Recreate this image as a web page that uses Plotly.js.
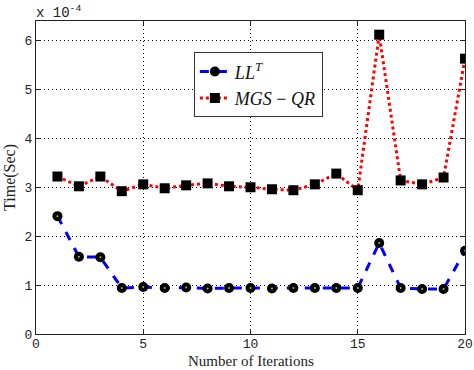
<!DOCTYPE html>
<html>
<head>
<meta charset="utf-8">
<script src="https://cdn.plot.ly/plotly-3.0.1.min.js"></script>
<style>html,body{margin:0;padding:0;background:#fff;}#chart{width:474px;height:370px;}</style>
</head>
<body>
<div id="chart"></div>
<script>
// Values in units of 1e-4 seconds
const iterations = [1,2,3,4,5,6,7,8,9,10,11,12,13,14,15,16,17,18,19,20];
const llt = [2.41,1.58,1.57,0.94,0.96,0.94,0.95,0.93,0.94,0.94,0.93,0.94,0.94,0.94,0.94,1.86,0.94,0.92,0.92,1.70];
const mgsqr = [3.22,3.02,3.22,2.92,3.06,2.98,3.04,3.08,3.02,3.00,2.96,2.94,3.06,3.28,2.94,6.12,3.14,3.06,3.20,5.63];
const xTicks = [0,5,10,15,20];
const yTicks = [0,1,2,3,4,5,6];

const MONO = 'Liberation Mono';
const SERIF = 'Liberation Serif';

const traces = [
  {x: iterations, y: llt, name: '<i>LL<sup>T</sup></i>', mode: 'lines+markers',
   line: {color: '#0000ff', width: 3, dash: 'dash'},
   marker: {symbol: 'circle', size: 10, color: '#000'}},
  {x: iterations, y: llt, showlegend: false, mode: 'markers', hoverinfo: 'skip',
   marker: {symbol: 'circle', size: 2, color: '#8fd400'}},
  {x: iterations, y: mgsqr, name: '<i>MGS</i> − <i>QR</i>', mode: 'lines+markers',
   line: {color: '#ff0000', width: 3, dash: 'dot'},
   marker: {symbol: 'square', size: 10, color: '#000'}}
];

const axisCommon = {
  showline: true, mirror: 'ticks', linecolor: '#222', linewidth: 1,
  ticks: 'inside', ticklen: 5, tickcolor: '#222',
  showgrid: true, gridcolor: '#000', griddash: '1px,3px', gridwidth: 1,
  zeroline: false,
  tickfont: {family: MONO, size: 13, color: '#222'}
};

const layout = {
  width: 474, height: 370,
  margin: {l: 36, r: 9, t: 21, b: 36},
  paper_bgcolor: '#fff', plot_bgcolor: '#fff',
  xaxis: Object.assign({}, axisCommon, {
    range: [0, 20], tickvals: xTicks, ticktext: xTicks.map(String),
    ticklabelstandoff: -3
  }),
  yaxis: Object.assign({}, axisCommon, {
    range: [0, 6.4], tickvals: yTicks, ticktext: yTicks.map(String),
    title: {text: 'Time(Sec)', standoff: 4,
            font: {family: SERIF, size: 16, color: '#222'}}
  }),
  legend: {
    x: 0.368, y: 0.90, xanchor: 'left', yanchor: 'top',
    bgcolor: '#fff', bordercolor: '#333', borderwidth: 1,
    font: {family: SERIF, size: 18, color: '#111'},
    tracegroupgap: 0
  },
  annotations: [{
    xref: 'paper', yref: 'paper', x: 0, y: 1, xanchor: 'left', yanchor: 'bottom',
    xshift: -2, yshift: -2, showarrow: false,
    text: 'x 10<sup>-4</sup>',
    font: {family: MONO, size: 14, color: '#222'}
  }, {
    xref: 'paper', yref: 'paper', x: 0.5, y: 0, xanchor: 'center', yanchor: 'middle',
    yshift: -27, showarrow: false, borderpad: 0,
    text: 'Number of Iterations',
    font: {family: SERIF, size: 15, color: '#222'}
  }],
  showlegend: true
};

Plotly.newPlot('chart', traces, layout, {displayModeBar: false, staticPlot: true});
</script>
</body>
</html>
